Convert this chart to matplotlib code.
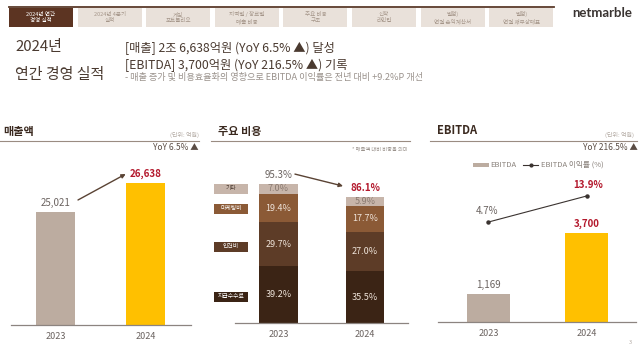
import matplotlib
matplotlib.use('Agg')
import matplotlib.pyplot as plt
from matplotlib.patches import Rectangle

plt.rcParams['font.family'] = ['Noto Sans CJK KR', 'DejaVu Sans']

# data
years = ['2023', '2024']
revenue = [25021, 26638]
revenue_labels = ['25,021', '26,638']

cost_names = ['지급수수료', '인건비', '마케팅비', '기타']
cost_2023 = [39.2, 29.7, 19.4, 7.0]
cost_2024 = [35.5, 27.0, 17.7, 5.9]
cost_total = [95.3, 86.1]

ebitda = [1169, 3700]
ebitda_labels = ['1,169', '3,700']
ebitda_margin = [4.7, 13.9]

tabs = ['2024년 연간\n경영 실적', '2024년 4분기\n실적', '게임\n포트폴리오', '지역별 / 장르별\n매출 비중',
        '주요 비용\n구조', '신작\n라인업', '별첨)\n연결 손익계산서', '별첨)\n연결 재무상태표']

# colours
RED = '#b3182c'
DARK = '#4a3a30'
GRAY = '#6b6360'
BEIGE_BAR = '#bcaca0'
YELLOW = '#ffc000'
cost_colors = ['#3b2415', '#5d3c27', '#8b5a36', '#c7b5aa']

W, H = 640, 348
fig = plt.figure(figsize=(W / 100, H / 100), dpi=100)


def px_axes(x0, y0, x1, y1):
    return fig.add_axes([x0 / W, 1 - y1 / H, (x1 - x0) / W, (y1 - y0) / H])


def style_axes(ax):
    for s in ['top', 'right', 'left']:
        ax.spines[s].set_visible(False)
    ax.spines['bottom'].set_color('#8c8480')
    ax.spines['bottom'].set_linewidth(0.9)
    ax.set_yticks([])
    ax.set_xticks(range(len(years)))
    ax.set_xticklabels(years, fontsize=6.5, color=GRAY)
    ax.tick_params(axis='x', length=0, pad=5)
    ax.patch.set_alpha(0)


arrow_kw = dict(arrowstyle='-|>', color='#5a4334', lw=1.0, mutation_scale=6, shrinkA=0, shrinkB=0)

# ---- panel 1: 매출액
ax1 = px_axes(10.5, 150, 190.5, 325)
ax1.bar(range(2), revenue, width=0.433, color=[BEIGE_BAR, YELLOW])
ax1.set_xlim(-0.5, 1.5)
ax1.set_ylim(18720, 28478)
style_axes(ax1)
for i, v in enumerate(revenue):
    last = i == 1
    ax1.annotate(revenue_labels[i], (i, v), xytext=(0, 3), textcoords='offset points',
                 ha='center', va='bottom', fontsize=7,
                 color=RED if last else GRAY, fontweight='bold' if last else 'normal')
ax1.annotate('', xy=(0.78, revenue[1] + 500), xytext=(0.25, revenue[0] + 670), arrowprops=arrow_kw)

# ---- panel 2: 주요 비용
ax2 = px_axes(235, 150, 408, 323)
bottoms = [0, 0]
for k, name in enumerate(cost_names):
    vals = [cost_2023[k], cost_2024[k]]
    ax2.bar(range(2), vals, bottom=bottoms, width=0.45, color=cost_colors[k])
    for i in range(2):
        ax2.text(i, bottoms[i] + vals[i] / 2, f'{vals[i]:.1f}%', ha='center', va='center',
                 fontsize=6.5, color='#8a7a70' if k == 3 else '#efe4da')
    bottoms = [bottoms[0] + vals[0], bottoms[1] + vals[1]]
ax2.set_xlim(-0.503, 1.497)
ax2.set_ylim(0, 118.5)
style_axes(ax2)
for i, v in enumerate(cost_total):
    last = i == 1
    ax2.annotate(f'{v}%', (i, v), xytext=(0, 3), textcoords='offset points',
                 ha='center', va='bottom', fontsize=7,
                 color=RED if last else GRAY, fontweight='bold' if last else 'normal')
ax2.annotate('', xy=(0.746, cost_total[1] + 7.7), xytext=(0.19, cost_total[0] + 6.7), arrowprops=arrow_kw)

# ---- panel 3: EBITDA
ax3 = px_axes(438, 150, 636, 322)
ax3.bar(range(2), ebitda, width=0.44, color=[BEIGE_BAR, YELLOW])
ax3.set_xlim(-0.515, 1.505)
ax3.set_ylim(0, 7137)
style_axes(ax3)
for i, v in enumerate(ebitda):
    last = i == 1
    ax3.annotate(ebitda_labels[i], (i, v), xytext=(0, 3), textcoords='offset points',
                 ha='center', va='bottom', fontsize=7,
                 color=RED if last else GRAY, fontweight='bold' if last else 'normal')
ax3b = ax3.twinx()
ax3b.plot(range(2), ebitda_margin, color='#3a3330', lw=0.8, marker='o', markersize=2.2)
ax3b.set_ylim(-30.7, 30.2)
ax3b.axis('off')
for i, v in enumerate(ebitda_margin):
    last = i == 1
    ax3b.annotate(f'{v}%', (i, v), xytext=(1 if last else -1, 4), textcoords='offset points',
                  ha='center', va='bottom', fontsize=7,
                  color=RED if last else GRAY, fontweight='bold' if last else 'normal')

# ---- overlay for page furniture
bg = fig.add_axes([0, 0, 1, 1], zorder=10)
bg.set_xlim(0, W)
bg.set_ylim(H, 0)
bg.axis('off')
bg.patch.set_alpha(0)

# nav tabs
bg.plot([9, 554], [6.5, 6.5], color='#5a3a2a', lw=1.3)
for k, t in enumerate(tabs):
    x0 = 9 + k * 68.6
    active = k == 0
    bg.add_patch(Rectangle((x0, 8), 64, 19, color='#5c3422' if active else '#e9e1da', lw=0))
    bg.text(x0 + 32, 17.5, t, ha='center', va='center', fontsize=4, linespacing=1.3,
            color='white' if active else '#a5968a')
bg.text(602, 13, 'netmarble', ha='center', va='center', fontsize=9.5, fontweight='bold',
        family='Lato', color='#3a3432')

# heading
bg.text(15, 47, '2024년', ha='left', va='center', fontsize=10.8, color=DARK)
bg.text(15, 75, '연간 경영 실적', ha='left', va='center', fontsize=10.8, color=DARK)
bg.text(125, 48, '[매출] 2조 6,638억원 (YoY 6.5% ▲) 달성', ha='left', va='center', fontsize=8.8, color=DARK)
bg.text(125, 65, '[EBITDA] 3,700억원 (YoY 216.5% ▲) 기록', ha='left', va='center', fontsize=8.8, color=DARK)
bg.text(125, 77, '- 매출 증가 및 비용효율화의 영향으로 EBITDA 이익률은 전년 대비 +9.2%P 개선',
        ha='left', va='center', fontsize=6.6, color='#9a928c')

# panel headers
for title, x0, x1 in [('매출액', 0, 199), ('주요 비용', 211, 410), ('EBITDA', 430, 637)]:
    bg.text(x0 + 3 if x0 == 0 else x0 + 7, 131, title, ha='left', va='center', fontsize=8,
            fontweight='bold', color='#3b2a20')
    bg.plot([x0, x1], [140.5, 140.5], color='#9a8c82', lw=0.8)
bg.text(199, 135, '(단위: 억원)', ha='right', va='center', fontsize=4.3, color='#b3aaa3')
bg.text(634, 135, '(단위: 억원)', ha='right', va='center', fontsize=4.3, color='#b3aaa3')
bg.text(199, 148, 'YoY 6.5% ▲', ha='right', va='center', fontsize=6, color='#5a4c44')
bg.text(638, 148, 'YoY 216.5% ▲', ha='right', va='center', fontsize=6, color='#5a4c44')
bg.text(408, 149, '* 매출액 대비 비중을 의미', ha='right', va='center', fontsize=3.8, color='#9a928c')

# cost legend boxes
box_y = [297, 247, 209, 188.5]
for k, name in enumerate(cost_names):
    bg.add_patch(Rectangle((214, box_y[k] - 5), 34, 10, color=cost_colors[k], lw=0))
    bg.text(231, box_y[k], name, ha='center', va='center', fontsize=4.2,
            color='#4a3a30' if k == 3 else 'white')

# EBITDA legend
bg.add_patch(Rectangle((473, 163.3), 16, 3.4, color=BEIGE_BAR, lw=0))
bg.text(490, 165, 'EBITDA', ha='left', va='center', fontsize=5.5, color='#8a827c')
bg.plot([523, 538], [165, 165], color='#3a3330', lw=0.8)
bg.plot([530.5], [165], 'o', color='#3a3330', markersize=2)
bg.text(541, 165, 'EBITDA 이익률 (%)', ha='left', va='center', fontsize=5.5, color='#8a827c')

bg.text(630, 343, '3', ha='center', va='center', fontsize=4, color='#b0a8a2')

fig.savefig('out.png', dpi=100)
